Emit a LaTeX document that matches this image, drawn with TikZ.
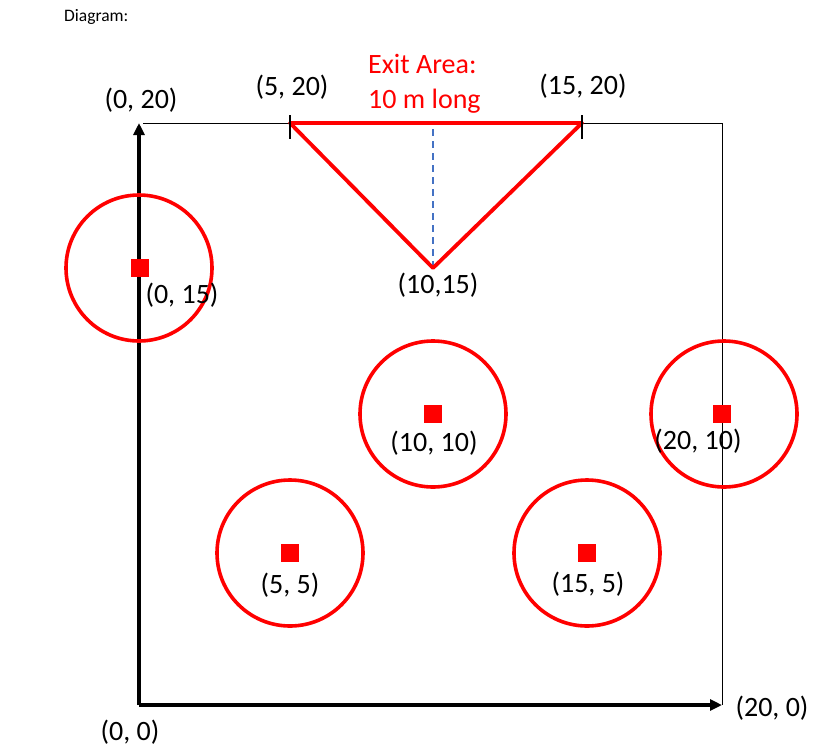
\documentclass[tikz,border=0pt]{standalone}
\usepackage{fontspec}
\setmainfont{Carlito}
\usetikzlibrary{arrows.meta}
\definecolor{exitred}{RGB}{255,0,0}
\definecolor{dashblue}{RGB}{68,114,196}
\begin{document}
\begin{tikzpicture}[x=1pt,y=-1pt,
  lbl/.style={font=\fontsize{28}{34}\selectfont, text=black, inner sep=0pt},
  zone/.style={draw=exitred, line width=3.6pt, circle, minimum size=146pt, inner sep=0pt},
  sq/.style={fill=exitred, minimum size=18pt, inner sep=0pt},
  axis/.style={line width=3.3pt, -{Triangle[length=12pt,width=11pt]}},
  thin/.style={line width=1pt},
  tick/.style={line width=2pt}]
\useasboundingbox (0,0) rectangle (838,750);
% coordinates
\coordinate (O) at (139,705);
\coordinate (Y) at (139,123);
\coordinate (X) at (722,705);
\coordinate (TR) at (722,123);
\coordinate (TL) at (143,123);
\coordinate (A) at (290,123);
\coordinate (B) at (582,123);
\coordinate (C) at (433,268);
\coordinate (Ctop) at (433,129);
\coordinate (At) at (290,115);
\coordinate (Ab) at (290,139);
\coordinate (Bt) at (582,115);
\coordinate (Bb) at (582,139);
% title
\node[font=\fontsize{17.5}{20}\selectfont, inner sep=0pt, anchor=west] (title) at (64,17) {Diagram:};
% thin frame
\draw[thin] (TL) -- (TR) -- (X);
% axes
\draw[axis] (O) -- (Y);
\draw[axis] (O) -- (X);
% circles
\node[zone] (c1) at (139,268) {};
\node[zone] (c2) at (433,414) {};
\node[zone] (c3) at (724,414) {};
\node[zone] (c4) at (290,553) {};
\node[zone] (c5) at (587,553) {};
% squares
\node[sq] (s1) at (140,268) {};
\node[sq] (s2) at (433,414) {};
\node[sq] (s3) at (722,414) {};
\node[sq] (s4) at (290,553) {};
\node[sq] (s5) at (587,553) {};
% dashed
\draw[dashblue, line width=2.2pt, dash pattern=on 7pt off 5pt] (Ctop) -- (C);
% triangle
\draw[exitred, line width=3.8pt, line join=round] (A) -- (B) -- (C) -- cycle;
% ticks
\draw[tick] (At) -- (Ab);
\draw[tick] (Bt) -- (Bb);
% labels
\node[lbl] (l020) at (141,100) {(0, 20)};
\node[lbl] (l520) at (292,87) {(5, 20)};
\node[lbl] (l1520) at (583,86) {(15, 20)};
\node[lbl, text=exitred, align=left, anchor=west, font=\fontsize{28}{35}\selectfont] (exit) at (368,84) {Exit Area:\\10 m long};
\node[lbl] (l015) at (182,295) {(0, 15)};
\node[lbl] (l1015) at (438,285) {(10,15)};
\node[lbl] (l1010) at (434,443) {(10, 10)};
\node[lbl] (l2010) at (698,441) {(20, 10)};
\node[lbl] (l55) at (290,585) {(5, 5)};
\node[lbl] (l155) at (588,584) {(15, 5)};
\node[lbl] (l00) at (130,732) {(0, 0)};
\node[lbl] (l200) at (772,708) {(20, 0)};
\end{tikzpicture}
\end{document}
